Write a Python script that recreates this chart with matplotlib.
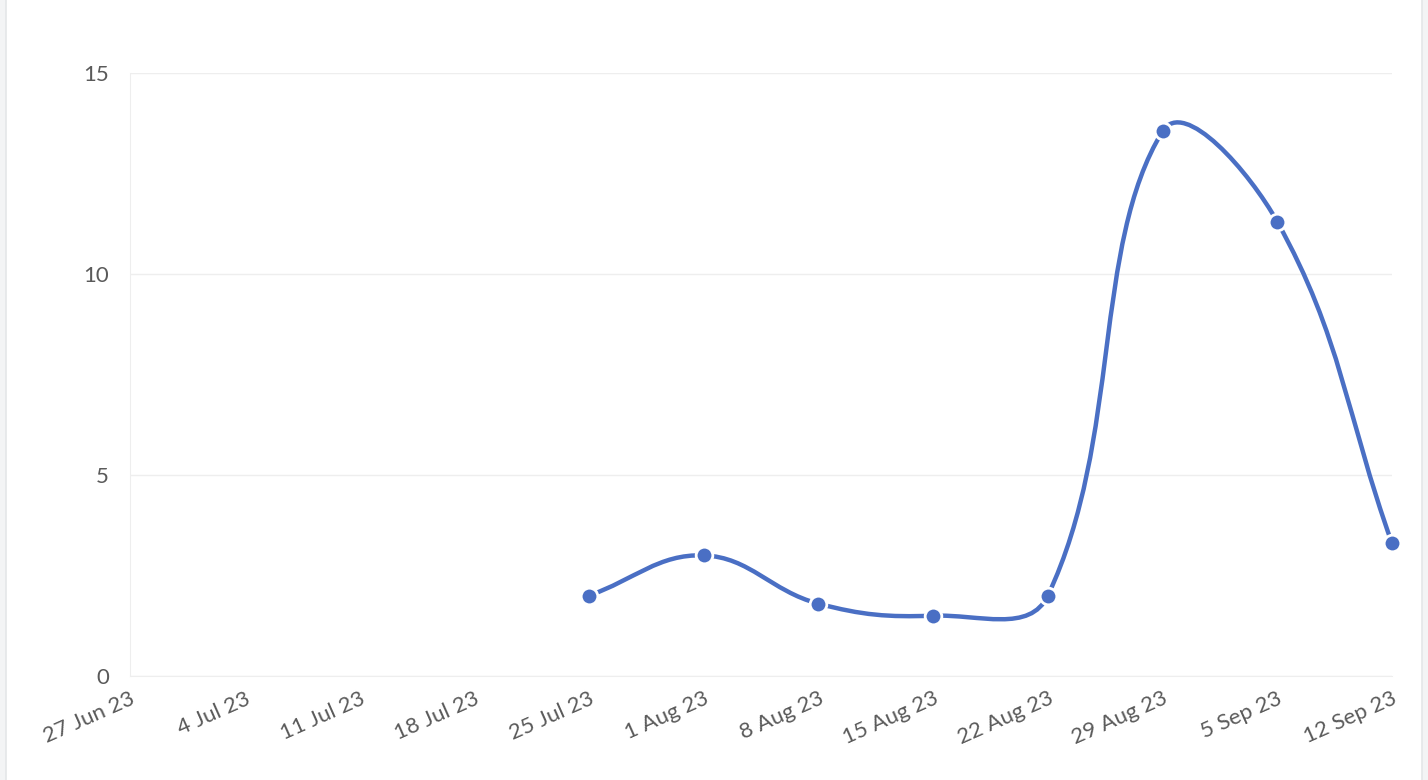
import numpy as np
import matplotlib
matplotlib.use("Agg")
import matplotlib.pyplot as plt
import matplotlib.dates as mdates
from matplotlib.path import Path
from matplotlib.patches import PathPatch, Rectangle
import datetime as dt

# weekly ticks shown on the x axis
tick_dates = [dt.date(2023, 6, 27) + dt.timedelta(weeks=i) for i in range(12)]
tick_labels = ["27 Jun 23", "4 Jul 23", "11 Jul 23", "18 Jul 23", "25 Jul 23",
               "1 Aug 23", "8 Aug 23", "15 Aug 23", "22 Aug 23", "29 Aug 23",
               "5 Sep 23", "12 Sep 23"]

# series
point_dates = tick_dates[4:]
values = [2.0, 3.0, 1.8, 1.5, 2.0, 13.55, 11.3, 3.3]

line_color = "#4a6fc4"
text_color = "#5a5a5a"
grid_color = "#eeeeee"

plt.rcParams["font.family"] = ["Lato", "DejaVu Sans"]

fig = plt.figure(figsize=(14.28, 7.8), dpi=100)
fig.patch.set_facecolor("#f3f4f5")
fig.patches.append(Rectangle((6 / 1428, -0.01), 1416 / 1428, 1.02,
                             transform=fig.transFigure, facecolor="white",
                             edgecolor="#e4e6e8", lw=1.2, zorder=-5))

ax = fig.add_axes([130 / 1428, 1 - 676 / 780, 1262 / 1428, 603 / 780])
ax.set_facecolor("none")
ax.set_zorder(2)

xn = mdates.date2num(tick_dates)
ax.set_xlim(xn[0], xn[-1])
ax.set_ylim(0, 15)

# smooth line (Chart.js style spline, tension 0.4, computed in pixel-like units)
px = mdates.date2num(point_dates)
py = np.array(values)
sx = 114.7 / 7.0   # px per day
sy = 40.2          # px per unit
P = np.column_stack([px * sx, py * sy])
t = 0.4
n = len(P)
cp_prev = np.zeros_like(P)
cp_next = np.zeros_like(P)
for i in range(n):
    prv = P[i - 1] if i > 0 else P[i]
    nxt = P[i + 1] if i < n - 1 else P[i]
    d01 = np.hypot(*(P[i] - prv))
    d12 = np.hypot(*(nxt - P[i]))
    tot = d01 + d12
    s01 = d01 / tot if tot else 0
    s12 = d12 / tot if tot else 0
    cp_prev[i] = P[i] - t * s01 * (nxt - prv)
    cp_next[i] = P[i] + t * s12 * (nxt - prv)

verts = [P[0]]
codes = [Path.MOVETO]
for i in range(n - 1):
    verts += [cp_next[i], cp_prev[i + 1], P[i + 1]]
    codes += [Path.CURVE4] * 3
verts = np.array(verts) / np.array([sx, sy])
ax.add_patch(PathPatch(Path(verts, codes), facecolor="none",
                       edgecolor=line_color, lw=3.2, capstyle="round",
                       clip_on=False, zorder=3))
ax.plot(px, py, "o", color=line_color, ms=12, mec="white", mew=2,
        clip_on=False, zorder=4)

ax.set_xticks(xn)
ax.set_xticklabels(tick_labels, rotation=24, ha="right",
                   rotation_mode="anchor", color=text_color, fontsize=16)
ax.set_yticks([0, 5, 10, 15])
ax.set_yticklabels(["0", "5", "10", "15"], color=text_color, fontsize=16)
ax.tick_params(axis="x", length=0, pad=9)
ax.tick_params(axis="y", length=0, pad=15)
ax.grid(axis="y", color=grid_color, lw=1)
for s in ["top", "right"]:
    ax.spines[s].set_visible(False)
ax.spines["left"].set_color(grid_color)
ax.spines["bottom"].set_color(grid_color)

fig.savefig("out.png", dpi=100, facecolor=fig.get_facecolor())
